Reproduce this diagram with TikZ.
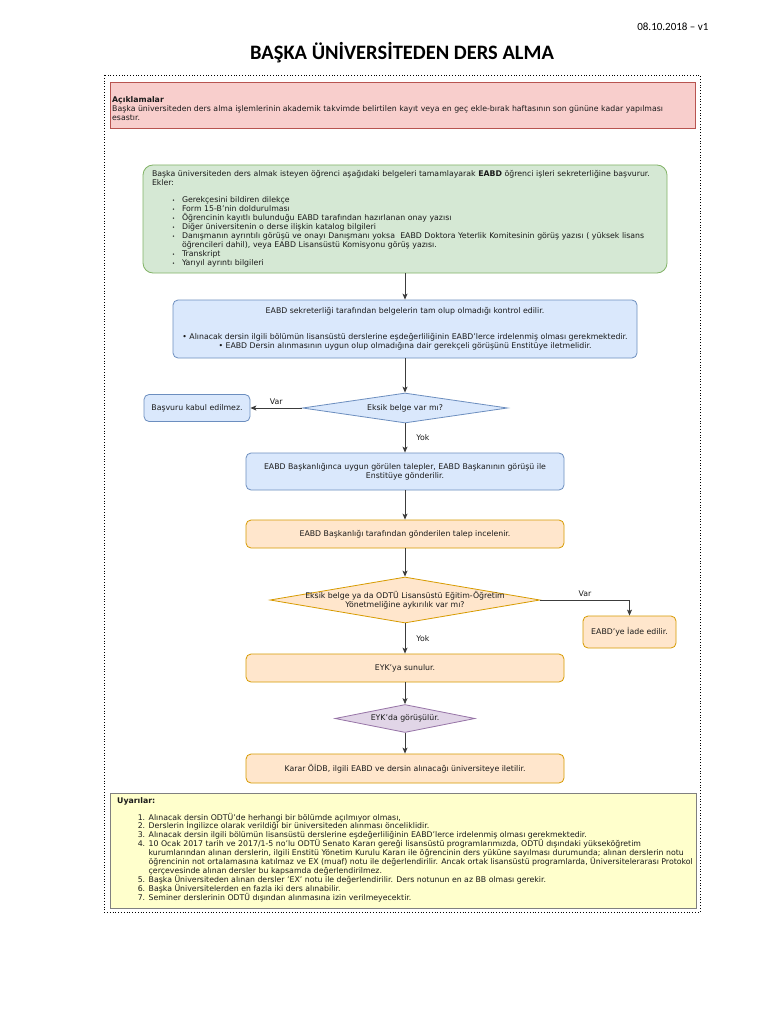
\documentclass[tikz,border=0pt]{standalone}
\usepackage{fontspec}
\setmainfont{DejaVu Sans}
\newfontfamily\calibri{Carlito}
\usetikzlibrary{shapes.geometric,arrows.meta}

\definecolor{notefill}{HTML}{F8CECC}
\definecolor{noteline}{HTML}{B85450}
\definecolor{greenfill}{HTML}{D5E8D4}
\definecolor{greenline}{HTML}{82B366}
\definecolor{bluefill}{HTML}{DAE8FC}
\definecolor{blueline}{HTML}{6C8EBF}
\definecolor{orangefill}{HTML}{FFE6CC}
\definecolor{orangeline}{HTML}{D79B00}
\definecolor{purplefill}{HTML}{E1D5E7}
\definecolor{purpleline}{HTML}{9673A6}
\definecolor{warnfill}{HTML}{FFFFCC}
\definecolor{warnline}{HTML}{808080}
\definecolor{ink}{HTML}{1A1A1A}

\newcommand\flowfont{\fontsize{7.8}{9.1}\selectfont}
\newcommand\warnfont{\fontsize{7.8}{8.9}\selectfont}
\newcommand\blt{\hspace*{20pt}\makebox[10pt][l]{\fontsize{5}{5}\selectfont\textbullet}}
\newcommand\itemno[1]{\hspace*{20pt}\makebox[8pt][r]{#1.}\hspace{3.5pt}}
\newcommand\itemcont{\hspace*{31.5pt}}

\tikzset{
  box/.style={draw, rounded corners=5pt, line width=0.8pt, font=\flowfont, text=ink, inner sep=0pt, align=center},
  bluebox/.style={box, fill=bluefill, draw=blueline},
  orangebox/.style={box, fill=orangefill, draw=orangeline},
  decision/.style={diamond, draw, line width=0.8pt, inner sep=0pt},
  flow/.style={draw=ink!85, line width=0.8pt, -{Stealth[length=6pt,width=5pt,inset=1.5pt]}},
  lbl/.style={font=\flowfont, text=ink, inner sep=1pt},
}

\begin{document}
\lineskiplimit=-10pt
\begin{tikzpicture}[x=1pt, y=-1pt]
    \useasboundingbox[fill=white] (0,0) rectangle (768,1024);
    % header
    \node[font=\calibri\fontsize{11}{13}\selectfont, anchor=east] (date) at (712,27) {08.10.2018 – v1};
    \node[font=\calibri\bfseries\fontsize{20.5}{23}\selectfont] (title) at (402,53) {BAŞKA ÜNİVERSİTEDEN DERS ALMA};
    \draw[dotted, line width=0.8pt] (104,75) rectangle (700,912);

    % explanations
    \node[draw=noteline, fill=notefill, line width=0.8pt, minimum width=585pt, minimum height=46pt] (note) at (402.5,105) {};
    \node[lbl, anchor=north west, inner sep=0pt, align=left] (notetext) at (112,96)
        {\textbf{Açıklamalar}\\
         Başka üniversiteden ders alma işlemlerinin akademik takvimde belirtilen kayıt veya en geç ekle-bırak haftasının son gününe kadar yapılması\\
         esastır.};

    % flow
    \node[box, fill=greenfill, draw=greenline, rounded corners=10pt, align=left, text width=506pt, inner xsep=9pt, minimum height=108pt] (apply) at (405,219)
        {Başka üniversiteden ders almak isteyen öğrenci aşağıdaki belgeleri tamamlayarak \textbf{EABD} öğrenci işleri sekreterliğine başvurur.\\
         Ekler:\\[7pt]
         \blt Gerekçesini bildiren dilekçe\\
         \blt Form 15-B’nin doldurulması\\
         \blt Öğrencinin kayıtlı bulunduğu EABD tarafından hazırlanan onay yazısı\\
         \blt Diğer üniversitenin o derse ilişkin katalog bilgileri\\
         \blt Danışmanın ayrıntılı görüşü ve onayı Danışmanı yoksa\ \ EABD Doktora Yeterlik Komitesinin görüş yazısı ( yüksek lisans\\
         \hspace*{30pt}öğrencileri dahil), veya EABD Lisansüstü Komisyonu görüş yazısı.\\
         \blt Transkript\\
         \blt Yarıyıl ayrıntı bilgileri};
    \node[bluebox, minimum width=464pt, minimum height=58pt] (check) at (405,329)
        {EABD sekreterliği tarafından belgelerin tam olup olmadığı kontrol edilir.\\[17pt]
         • Alınacak dersin ilgili bölümün lisansüstü derslerine eşdeğerliliğinin EABD’lerce irdelenmiş olması gerekmektedir.\\
         • EABD Dersin alınmasının uygun olup olmadığına dair gerekçeli görüşünü Enstitüye iletmelidir.};
    \node[decision, fill=bluefill, draw=blueline, minimum width=205pt, minimum height=30pt,
          label={[lbl]center:Eksik belge var mı?}] (q1) at (405,408) {};
    \node[bluebox, minimum width=106pt, minimum height=27pt] (reject) at (197,408) {Başvuru kabul edilmez.};
    \node[bluebox, minimum width=318pt, minimum height=37pt] (forward) at (405,471.5)
        {EABD Başkanlığınca uygun görülen talepler, EABD Başkanının görüşü ile\\ Enstitüye gönderilir.};
    \node[orangebox, minimum width=318pt, minimum height=28pt] (review) at (405,534)
        {EABD Başkanlığı tarafından gönderilen talep incelenir.};
    \node[decision, fill=orangefill, draw=orangeline, minimum width=270pt, minimum height=46pt,
          label={[lbl, align=center]center:Eksik belge ya da ODTÜ Lisansüstü Eğitim-Öğretim\\ Yönetmeliğine aykırılık var mı?}] (q2) at (405,600) {};
    \node[orangebox, minimum width=93pt, minimum height=32pt] (back) at (629.5,632) {EABD’ye İade edilir.};
    \node[orangebox, minimum width=318pt, minimum height=28pt] (eyk) at (405,668) {EYK’ya sunulur.};
    \node[decision, fill=purplefill, draw=purpleline, minimum width=140pt, minimum height=28pt,
          label={[lbl]center:EYK’da görüşülür.}] (q3) at (405,718.5) {};
    \node[orangebox, minimum width=318pt, minimum height=29pt] (final) at (405,768.5)
        {Karar ÖİDB, ilgili EABD ve dersin alınacağı üniversiteye iletilir.};

    \foreach \a/\b in {apply/check, check/q1, forward/review, review/q2, eyk/q3, q3/final}
        \draw[flow] (\a) -- (\b);
    \draw[flow] (q1) -- node[lbl, above=2pt] (var1) {Var} (reject);
    \draw[flow] (q1) -- node[lbl, right=10pt] (yok1) {Yok} (forward);
    \draw[flow] (q2.east) -| node[lbl, pos=.25, above=2pt] (var2) {Var} (back.north);
    \draw[flow] (q2) -- node[lbl, right=10pt] (yok2) {Yok} (eyk);

    % warnings
    \node[draw=warnline, fill=warnfill, line width=0.8pt, minimum width=586pt, minimum height=115pt] (warn) at (403,850.5) {};
    \node[lbl, font=\warnfont, anchor=north west, inner sep=0pt, align=left] (warntext) at (117,797)
        {\textbf{Uyarılar:}\\[8pt]
         \itemno{1}Alınacak dersin ODTÜ’de herhangi bir bölümde açılmıyor olması,\\
         \itemno{2}Derslerin İngilizce olarak verildiği bir üniversiteden alınması önceliklidir.\\
         \itemno{3}Alınacak dersin ilgili bölümün lisansüstü derslerine eşdeğerliliğinin EABD’lerce irdelenmiş olması gerekmektedir.\\
         \itemno{4}10 Ocak 2017 tarih ve 2017/1-5 no’lu ODTÜ Senato Kararı gereği lisansüstü programlarımızda, ODTÜ dışındaki yükseköğretim\\
         \itemcont kurumlarından alınan derslerin, ilgili Enstitü Yönetim Kurulu Kararı ile öğrencinin ders yüküne sayılması durumunda; alınan derslerin notu\\
         \itemcont öğrencinin not ortalamasına katılmaz ve EX (muaf) notu ile değerlendirilir. Ancak ortak lisansüstü programlarda, Üniversitelerarası Protokol\\
         \itemcont çerçevesinde alınan dersler bu kapsamda değerlendirilmez.\\
         \itemno{5}Başka Üniversiteden alınan dersler 'EX' notu ile değerlendirilir. Ders notunun en az BB olması gerekir.\\
         \itemno{6}Başka Üniversitelerden en fazla iki ders alınabilir.\\
         \itemno{7}Seminer derslerinin ODTÜ dışından alınmasına izin verilmeyecektir.};
\end{tikzpicture}
\end{document}
